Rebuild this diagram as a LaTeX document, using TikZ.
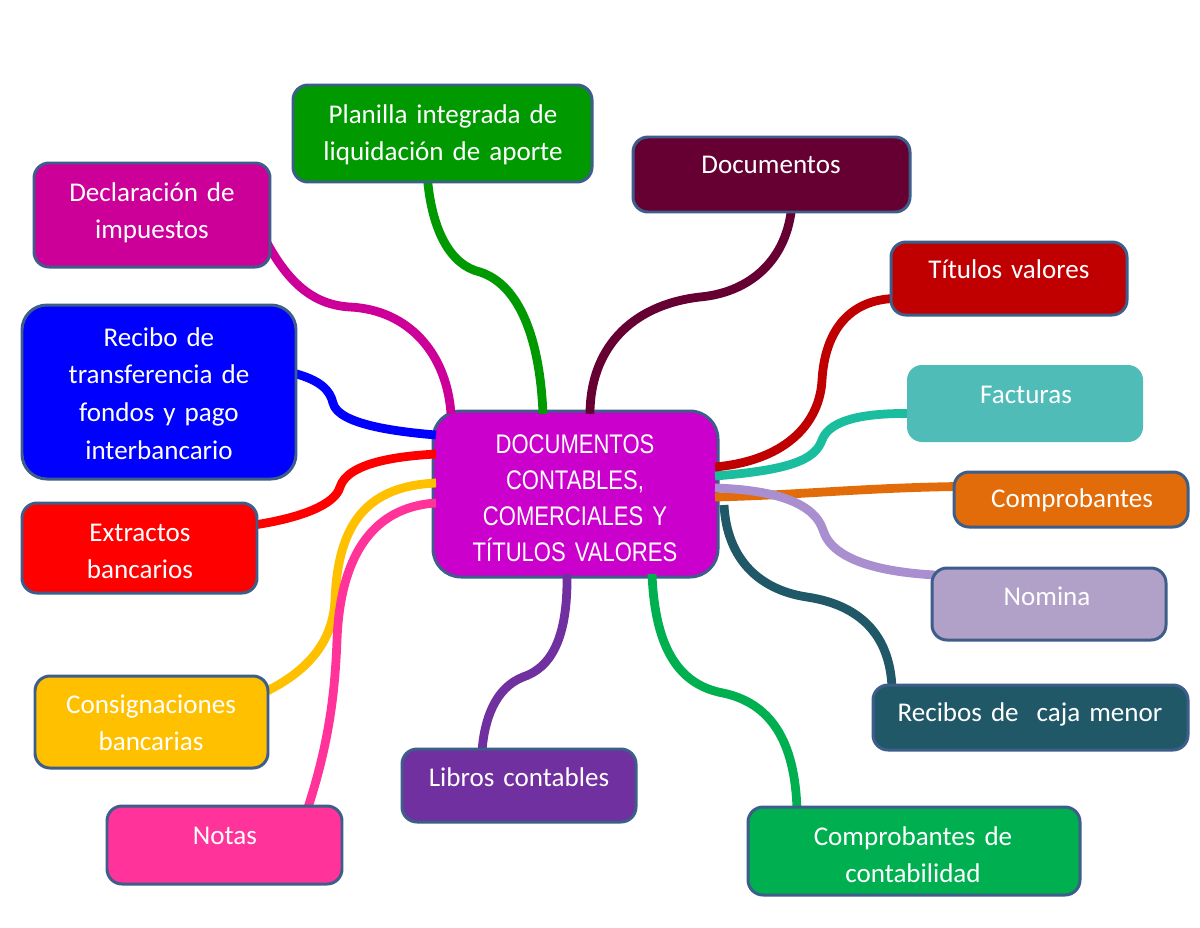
\documentclass[tikz,border=0pt]{standalone}
\usepackage{fontspec}
\setmainfont[WordSpace=0.8]{Carlito}
\newfontfamily\narrowfont[FakeStretch=0.82]{Liberation Sans}
\usetikzlibrary{calc}
\pgfdeclarelayer{bgw}
\pgfdeclarelayer{cenl}
\pgfdeclarelayer{lines}
\pgfsetlayers{bgw,cenl,lines,main}
\definecolor{bordc}{HTML}{3D5D8A}
\definecolor{cPlan}{HTML}{009900}
\definecolor{cDocs}{HTML}{660033}
\definecolor{cDecl}{HTML}{CC0099}
\definecolor{cTit}{HTML}{C00000}
\definecolor{cReci}{HTML}{0000FF}
\definecolor{cFact}{HTML}{50BCB8}
\definecolor{cCen}{HTML}{CC00CC}
\definecolor{cComp}{HTML}{E36C0A}
\definecolor{cExtr}{HTML}{FF0000}
\definecolor{cNomi}{HTML}{B1A0C7}
\definecolor{cCons}{HTML}{FFC000}
\definecolor{cCaja}{HTML}{215868}
\definecolor{cLibr}{HTML}{7030A0}
\definecolor{cNota}{HTML}{FF3399}
\definecolor{cCont}{HTML}{00B050}
\definecolor{lNomi}{HTML}{A98FD0}
\definecolor{lFact}{HTML}{1ABD9E}
\tikzset{
  box/.style={draw=bordc, line width=1.7pt, rounded corners=0.3cm, fill=#1, inner sep=0pt, outer sep=0pt},
  txt/.style={text=white, font=\fontsize{15.4}{21.5}\selectfont, align=center, text width=6cm, anchor=base, inner sep=0pt},
  cenfont/.style={font=\narrowfont\fontsize{15.3}{20.6}\selectfont},
  conn/.style={draw=#1, line width=5pt},
}
\newcommand\placebox[7][]{%
  \node[box=#7, minimum width={(#4-#2)*0.02cm}, minimum height={(#5-#3)*0.02cm}, #1] (#6) at ({(#2+#4)/2},{(#3+#5)/2}) {};}
\begin{document}
\begin{tikzpicture}[x=0.02cm, y=-0.02cm]
\useasboundingbox (0,0) rectangle (1200,927);
\begin{pgfonlayer}{bgw}
\fill[white] (0,0) rectangle (1200,927);
\end{pgfonlayer}

% outer boxes
\placebox{293}{85}{592}{182}{plan}{cPlan}
\placebox{633}{137}{910}{212}{docs}{cDocs}
\placebox{34}{163}{270}{267}{decl}{cDecl}
\placebox{891}{242}{1127}{315}{tit}{cTit}
\placebox[rounded corners=0.5cm]{22}{305}{296}{479}{reci}{cReci}
\placebox[draw=none]{907}{365}{1143}{442}{fact}{cFact}
\placebox{954}{472}{1188}{527}{comp}{cComp}
\placebox{22}{503}{257}{593}{extr}{cExtr}
\placebox{932}{568}{1166}{640}{nomi}{cNomi}
\placebox{35}{676}{268}{768}{cons}{cCons}
\placebox{873}{685}{1188}{750}{caja}{cCaja}
\placebox{402}{749}{636}{822}{libr}{cLibr}
\placebox{107}{806}{342}{884}{nota}{cNota}
\placebox{748}{807}{1080}{895}{cont}{cCont}

% central box
\begin{pgfonlayer}{cenl}
\placebox[rounded corners=0.56cm]{433}{411}{718}{577}{cen}{cCen}
\end{pgfonlayer}

% texts
\node[txt] (planT) at (443,123) {Planilla integrada de\\liquidación de aporte};
\node[txt] (docsT) at (771,173) {Documentos};
\node[txt] (declT) at (152,201) {Declaración de\\impuestos};
\node[txt] (titT) at (1009,278) {Títulos valores};
\node[txt] (reciT) at (159,346) {Recibo de\\transferencia de\\fondos y pago\\interbancario};
\node[txt] (factT) at (1026,403) {Facturas};
\node[txt] (compT) at (1072,507) {Comprobantes};
\node[txt] (extrT) at (140,541) {Extractos\\bancarios};
\node[txt] (nomiT) at (1047,605) {Nomina};
\node[txt] (consT) at (151,713) {Consignaciones\\bancarias};
\node[txt] (cajaT) at (1030,721) {Recibos de\ \ caja menor};
\node[txt] (librT) at (519,786) {Libros contables};
\node[txt] (notaT) at (225,844) {Notas};
\node[txt] (contT) at (913,845) {Comprobantes de\\contabilidad};
\node[txt, cenfont] (cenT) at (575,453) {DOCUMENTOS\\CONTABLES,\\COMERCIALES Y\\TÍTULOS VALORES};

% connectors
\begin{pgfonlayer}{lines}
\draw[conn=cDecl] ($(decl.east)+(-3,28)$) .. controls (290,285) and (315,305) .. (350,307) .. controls (410,310) and (447,355) .. ($(cen.north west)+(18,3)$);
\draw[conn=cPlan] ($(plan.south)+(-15,-3)$) .. controls (432,230) and (450,265) .. (480,272) .. controls (520,285) and (540,340) .. ($(cen.north west)+(110,3)$);
\draw[conn=cDocs] ($(docs.south)+(20,-3)$) .. controls (785,265) and (745,293) .. (700,297) .. controls (630,305) and (590,350) .. ($(cen.north west)+(157,3)$);
\draw[conn=cReci] ($(reci.east)+(-3,-19)$) .. controls (320,380) and (330,390) .. (333,403) .. controls (338,425) and (400,432) .. ($(cen.north west)+(3,24)$);
\draw[conn=cExtr] ($(extr.east)+(-3,-23)$) .. controls (300,518) and (335,505) .. (340,487) .. controls (348,462) and (400,456) .. ($(cen.north west)+(3,43)$);
\draw[conn=cCons] ($(cons.east)+(-3,-30)$) .. controls (310,670) and (333,640) .. (335,600) .. controls (338,520) and (370,486) .. ($(cen.north west)+(3,72)$);
\draw[conn=cNota] ($(nota.north)+(83,3)$) .. controls (330,740) and (335,690) .. (337,640) .. controls (340,560) and (370,507) .. ($(cen.north west)+(3,92)$);
\draw[conn=cLibr] ($(cen.south west)+(134,-3)$) .. controls (568,640) and (550,668) .. (523,677) .. controls (495,688) and (484,720) .. ($(libr.north)+(-37,3)$);
\draw[conn=cCont] ($(cen.south west)+(219,-3)$) .. controls (655,650) and (680,685) .. (723,693) .. controls (770,703) and (795,740) .. ($(cont.north)+(-117,3)$);
\draw[conn=cComp] ($(cen.north east)+(-3,86)$) .. controls (800,495) and (860,488) .. ($(comp.west)+(3,-13)$);
\draw[conn=lNomi] ($(cen.north east)+(-3,77)$) .. controls (780,490) and (815,505) .. (823,530) .. controls (832,560) and (880,572) .. ($(nomi.north west)+(3,7)$);
\draw[conn=cCaja] ($(cen.north east)+(6,94)$) .. controls (727,560) and (760,590) .. (807,597) .. controls (860,605) and (890,635) .. ($(caja.north west)+(19,3)$);
\draw[conn=lFact] ($(cen.north east)+(-3,65)$) .. controls (790,470) and (815,460) .. (822,440) .. controls (830,418) and (870,413) .. ($(fact.west)+(3,10)$);
\draw[conn=cTit] ($(cen.north east)+(-3,56)$) .. controls (790,460) and (820,420) .. (822,380) .. controls (825,330) and (850,300) .. ($(tit.west)+(3,20)$);
\end{pgfonlayer}
\end{tikzpicture}
\end{document}
